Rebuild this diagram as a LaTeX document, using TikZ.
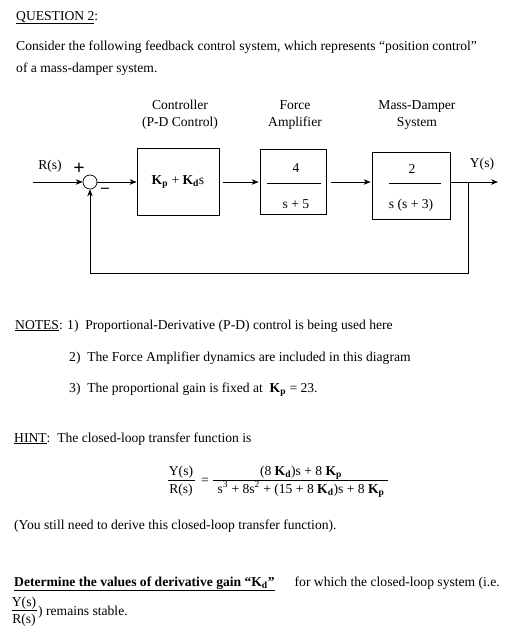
\documentclass[tikz,border=0pt]{standalone}
\usepackage{fontspec}
\setmainfont{Liberation Serif}
\usetikzlibrary{arrows.meta}
\newcommand{\Kb}[1]{\textbf{K}\textsubscript{\textbf{#1}}}
\begin{document}
\begin{tikzpicture}[x=1pt,y=-1pt, font=\fontsize{13.6}{16}\selectfont,
  txt/.style={anchor=base west, inner sep=0},
  ctxt/.style={anchor=base, inner sep=0},
  blk/.style={draw, line width=0.8pt, inner sep=0},
  arr/.style={-{Stealth[length=7pt,width=5.5pt]}, line width=0.7pt},
  wire/.style={line width=0.7pt},
  fracline/.style={line width=0.6pt}]
\useasboundingbox[fill=white] (0,0) rectangle (504,640);

% header
\node[txt] (q) at (16,20) {\underline{QUESTION 2}:};
\node[txt] (c1) at (16,50) {Consider the following feedback control system, which represents “position control”};
\node[txt] (c2) at (16,72) {of a mass-damper system.};

% block labels
\node[ctxt] (l1a) at (180,109) {Controller};
\node[ctxt] (l1b) at (180,126) {(P-D Control)};
\node[ctxt] (l2a) at (295,109) {Force};
\node[ctxt] (l2b) at (295,126) {Amplifier};
\node[ctxt] (l3a) at (417,109) {Mass-Damper};
\node[ctxt] (l3b) at (417,126) {System};

% block diagram
\node[circle, draw, line width=0.7pt, minimum size=14pt, inner sep=0] (sum) at (90,182) {};
\node[blk, minimum width=82pt, minimum height=67pt] (ctrl) at (178,182) {\Kb{p} + \Kb{d}s};
\node[blk, minimum width=66pt, minimum height=65pt] (amp) at (293,182) {};
\node[blk, minimum width=78pt, minimum height=67pt] (plant) at (411,186) {};

\node[ctxt] (n4) at (296,172) {4};
\draw[fracline] (267,183) -- (321,183);
\node[ctxt] (d5) at (296,208) {s + 5};
\node[ctxt] (n2) at (412,173) {2};
\draw[fracline] (389,183) -- (441,183);
\node[ctxt] (d3) at (411,208) {s (s + 3)};

\node[ctxt] (R) at (50,169) {R(s)};
\node[ctxt] (Y) at (482,167) {Y(s)};
\node[inner sep=0, font=\fontsize{20}{20}\selectfont\bfseries] (plus) at (79,169) {+};
\node[inner sep=0, font=\fontsize{16}{16}\selectfont\bfseries] (minus) at (105,190) {–};

\coordinate (in) at (33,182);
\coordinate (br) at (468,182);
\coordinate (out) at (498,182);
\coordinate (fb1) at (468,273);
\coordinate (fb2) at (90,273);

\draw[arr] (in) -- (sum.west);
\draw[arr] (sum.east) -- (ctrl.west);
\draw[arr, shorten <=4pt, shorten >=1pt] (ctrl.east) -- (amp.west);
\draw[arr, shorten <=5pt, shorten >=1pt] (amp.east) -- (amp.east -| plant.west);
\draw[wire] (plant.east |- br) -- (br);
\draw[arr] (br) -- (out);
\draw[arr] (br) -- (fb1) -- (fb2) -- (sum.south);

% notes
\node[txt] (notes) at (15,329) {\underline{NOTES}:};
\node[txt] (n1) at (67,329) {1)\ \ Proportional-Derivative (P-D) control is being used here};
\node[txt] (nn2) at (69,361) {2)\ \ The Force Amplifier dynamics are included in this diagram};
\node[txt] (nn3) at (69,392) {3)\ \ The proportional gain is fixed at\ \ \Kb{p} = 23.};

% hint
\node[txt] (hint) at (14,442) {\underline{HINT}:\ \ The closed-loop transfer function is};
\node[ctxt] (hy) at (181,475) {Y(s)};
\draw[fracline] (168,480) -- (195,480);
\node[ctxt] (hr) at (181,493) {R(s)};
\node[ctxt] (eq) at (205,484) {=};
\node[ctxt] (num) at (301,475) {(8 \Kb{d})s + 8 \Kb{p}};
\draw[fracline] (213,480) -- (388,480);
\node[ctxt] (den) at (301,493) {s\textsuperscript{3} + 8s\textsuperscript{2} + (15 + 8 \Kb{d})s + 8 \Kb{p}};

\node[txt] (you) at (14,529) {(You still need to derive this closed-loop transfer function).};

\node[txt] (det) at (14,586) {\textbf{\underline{Determine the values of derivative gain “K\textsubscript{d}”}}};
\node[anchor=base east, inner sep=0] (det2) at (500,586) {for which the closed-loop system (i.e.};
\node[ctxt] (by) at (24,606) {Y(s)};
\draw[fracline] (12,610) -- (37,610);
\node[ctxt] (brr) at (24,623) {R(s)};
\node[txt] (stab) at (38,615) {) remains stable.};
\end{tikzpicture}
\end{document}
